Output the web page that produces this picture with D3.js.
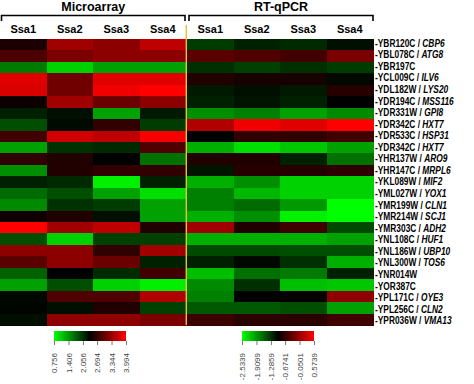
<!DOCTYPE html>
<html>
<head>
<meta charset="utf-8">
<script src="https://cdn.jsdelivr.net/npm/d3@7"></script>
<style>
  body { margin: 0; background: #fff; }
  svg { display: block; font-family: "Liberation Sans", Arial, sans-serif; }
</style>
</head>
<body>
<svg id="chart" width="474" height="384"></svg>
<script>
// samples (columns) in each block
const samples = ['Ssa1', 'Ssa2', 'Ssa3', 'Ssa4']

// row labels: ORF id + gene name (gene is italic)
const orfs = ['YBR120C', 'YBL078C', 'YBR197C', 'YCL009C', 'YDL182W', 'YDR194C', 'YDR331W',
  'YDR342C', 'YDR533C', 'YDR342C', 'YHR137W', 'YHR147C', 'YKL089W', 'YML027W', 'YMR199W',
  'YMR214W', 'YMR303C', 'YNL108C', 'YNL186W', 'YNL300W', 'YNR014W', 'YOR387C', 'YPL171C',
  'YPL256C', 'YPR036W']
const genes = ['CBP6', 'ATG8', '', 'ILV6', 'LYS20', 'MSS116', 'GPI8', 'HXT7', 'HSP31', 'HXT7',
  'ARO9', 'MRPL6', 'MIF2', 'YOX1', 'CLN1', 'SCJ1', 'ADH2', 'HUF1', 'UBP10', 'TOS6', '', '',
  'OYE3', 'CLN2', 'VMA13']

// microarray values, one row per gene: Ssa1..Ssa4
const microarray = [
  [2.537, 3.395, 3.265, 3.589],
  [2.861, 3.152, 3.265, 3.265],
  [1.598, 1.047, 1.355, 1.355],
  [3.800, 3.087, 3.800, 3.800],
  [3.751, 3.087, 3.897, 3.994],
  [2.472, 3.395, 3.055, 3.265],
  [2.165, 2.278, 1.355, 2.213],
  [1.873, 2.310, 2.683, 2.003],
  [2.780, 3.703, 3.589, 3.945],
  [1.355, 2.067, 2.116, 2.877],
  [2.683, 2.585, 2.375, 1.663],
  [1.468, 2.585, 2.683, 2.683],
  [2.165, 2.116, 0.853, 2.165],
  [1.695, 1.873, 1.355, 0.950],
  [1.501, 2.067, 2.003, 1.355],
  [2.472, 2.585, 2.278, 1.355],
  [3.994, 3.395, 3.589, 2.585],
  [1.873, 1.047, 1.970, 1.970],
  [3.265, 3.265, 2.683, 3.395],
  [2.942, 3.265, 3.055, 2.165],
  [1.760, 2.375, 2.100, 2.780],
  [1.355, 1.873, 1.047, 0.853],
  [2.326, 2.877, 2.877, 3.492],
  [2.343, 2.278, 2.585, 1.970],
  [2.278, 3.282, 3.282, 3.152]
]

// RT-qPCR values, one row per gene: Ssa1..Ssa4
const rtqpcr = [
  [-1.337, -1.182, -1.229, -1.073],
  [-0.436, -0.498, -0.592, -0.234],
  [-1.275, -1.368, -1.275, -1.337],
  [-0.778, -0.840, -0.840, -1.027],
  [-1.135, -1.073, -1.135, -0.747],
  [-1.182, -1.104, -1.182, -0.980],
  [-1.850, -1.757, -1.959, -1.819],
  [0.092, 0.481, 0.387, 0.574],
  [-0.980, -0.685, -0.685, -0.592],
  [-2.052, -2.347, -2.192, -1.959],
  [-0.778, -0.778, -1.182, -1.664],
  [-1.104, -0.747, -0.747, -0.685],
  [-2.052, -1.850, -2.254, -2.254],
  [-1.757, -2.099, -2.254, -2.254],
  [-1.757, -1.633, -1.912, -2.534],
  [-2.052, -1.850, -2.456, -2.534],
  [-0.001, -0.778, -0.592, -1.431],
  [-2.052, -2.052, -2.052, -1.959],
  [-1.431, -1.431, -1.462, -1.462],
  [-1.182, -1.027, -1.275, -2.052],
  [-2.145, -1.664, -1.726, -1.182],
  [-1.819, -1.275, -2.145, -2.192],
  [-1.757, -0.980, -0.949, -0.110],
  [-1.524, -1.524, -1.462, -1.959],
  [-0.623, -0.716, -0.716, -0.592]
]

// colour key ticks
const microTicks = [0.756, 1.406, 2.056, 2.694, 3.344, 3.994]
const microTickLabels = ['0.756', '1.406', '2.056', '2.694', '3.344', '3.994']
const rtTicks = [-2.5339, -1.9099, -1.2859, -0.6741, -0.0501, 0.5739]
const rtTickLabels = ['-2.5339', '-1.9099', '-1.2859', '-0.6741', '-0.0501', '0.5739']

const svg = d3.select('#chart')
const rows = d3.range(orfs.length)

const y = d3.scaleBand().domain(rows).range([39, 325])
const xMicro = d3.scaleBand().domain(samples).range([0, 186])
const xRt = d3.scaleBand().domain(samples).range([187, 373])
const labelY = d3.scalePoint().domain(rows).range([46.7, 324.3])

function colourScale(ticks) {
  const lo = ticks[0], hi = ticks[ticks.length - 1]
  return d3.scaleLinear()
    .domain([lo, (lo + hi) / 2, hi])
    .range(['#00ff00', '#000000', '#ff0000'])
    .clamp(true)
}
const cMicro = colourScale(microTicks)
const cRt = colourScale(rtTicks)

function drawBlock(data, x, colour, name) {
  const g = svg.append('g').attr('class', name).attr('shape-rendering', 'crispEdges')
  data.forEach((row, i) => {
    g.selectAll(null)
      .data(row)
      .enter().append('rect')
      .attr('x', (d, j) => x(samples[j]))
      .attr('y', y(i))
      .attr('width', x.bandwidth() + 0.5)
      .attr('height', y.bandwidth() + 0.5)
      .attr('fill', d => colour(d))
  })
  // column headers
  svg.append('g').selectAll('text')
    .data(samples)
    .enter().append('text')
    .attr('x', d => x(d) + x.bandwidth() / 2)
    .attr('y', 33)
    .attr('text-anchor', 'middle')
    .attr('font-size', 11)
    .attr('font-weight', 'bold')
    .text(d => d)
}

drawBlock(microarray, xMicro, cMicro, 'micro')
drawBlock(rtqpcr, xRt, cRt, 'rt')

// block titles and brackets
function bracket(x0, x1, title) {
  svg.append('path')
    .attr('d', 'M' + x0 + ',21V15.5H' + x1 + 'V21')
    .attr('fill', 'none')
    .attr('stroke', '#000')
    .attr('stroke-width', 1.6)
  svg.append('text')
    .attr('x', (x0 + x1) / 2)
    .attr('y', 10.5)
    .attr('text-anchor', 'middle')
    .attr('font-size', 12.5)
    .attr('font-weight', 'bold')
    .text(title)
}
bracket(1.5, 185, 'Microarray')
bracket(189, 373, 'RT-qPCR')

// yellow divider between the blocks
svg.append('line')
  .attr('x1', 186.3).attr('x2', 186.3)
  .attr('y1', 25).attr('y2', 325)
  .attr('stroke', '#e6c23a')
  .attr('stroke-width', 1.4)

// row labels
const lab = svg.append('g').attr('transform', 'translate(375,0) scale(0.82,1)')
rows.forEach(i => {
  const t = lab.append('text')
    .attr('x', 0)
    .attr('y', labelY(i))
    .attr('font-size', 10.2)
    .attr('font-weight', 'bold')
  t.append('tspan').text('-' + orfs[i] + (genes[i] ? ' / ' : ''))
  if (genes[i]) t.append('tspan').attr('font-style', 'italic').text(genes[i])
})

// colour keys
const defs = svg.append('defs')
const grad = defs.append('linearGradient').attr('id', 'keyGrad')
grad.selectAll('stop')
  .data(['#00ff00', '#000000', '#ff0000'])
  .enter().append('stop')
  .attr('offset', (d, i) => (i * 50) + '%')
  .attr('stop-color', d => d)

function colourKey(x0, x1, ticks, tickLabels) {
  const s = d3.scaleLinear().domain([ticks[0], ticks[ticks.length - 1]]).range([x0, x1])
  svg.append('rect')
    .attr('x', x0).attr('y', 331)
    .attr('width', x1 - x0).attr('height', 10)
    .attr('fill', 'url(#keyGrad)')
  const ax = svg.append('g')
    .attr('transform', 'translate(0,341)')
    .call(d3.axisBottom(s)
      .tickValues(ticks)
      .tickSize(4)
      .tickFormat((d, i) => tickLabels[i]))
  ax.select('.domain').remove()
  ax.selectAll('line').attr('stroke', '#777')
  ax.selectAll('text')
    .attr('transform', 'rotate(-90)')
    .attr('x', -12)
    .attr('y', 0)
    .attr('dy', '0.32em')
    .attr('text-anchor', 'end')
    .attr('fill', '#444')
    .attr('font-size', 8)
    .attr('font-family', '"Liberation Sans", Arial, sans-serif')
}
colourKey(54, 126, microTicks, microTickLabels)
colourKey(242, 314, rtTicks, rtTickLabels)
</script>
</body>
</html>
